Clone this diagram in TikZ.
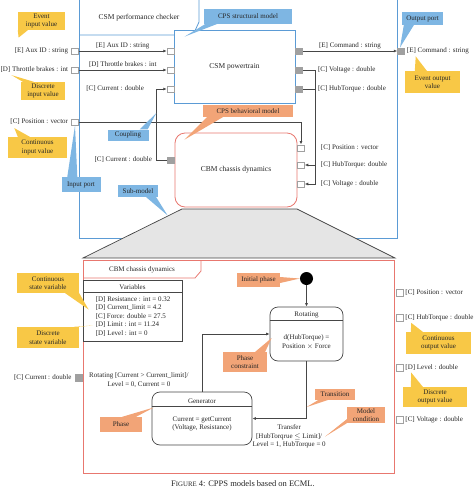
\documentclass[tikz,border=0pt]{standalone}
\usepackage{fontspec}
\setmainfont{Liberation Serif}
\usepackage{tikz}
\usetikzlibrary{arrows.meta,positioning,calc}
\usepackage{xcolor}
\definecolor{checkercolor}{RGB}{91,155,213}
\definecolor{chassiscolor}{RGB}{232,119,111}
\definecolor{bluenote}{RGB}{126,182,227}
\definecolor{yellownote}{RGB}{248,200,70}
\definecolor{orangenote}{RGB}{242,164,119}
\definecolor{portcolor}{RGB}{160,160,160}
\definecolor{wirecolor}{RGB}{70,70,70}

\begin{document}
\begin{tikzpicture}[x=1pt, y=-1pt,
    every node/.style={font=\fontsize{7}{8.5}\selectfont, text=black!85, inner sep=2pt},
    portbox/.style={rectangle, draw=portcolor, fill=white, line width=0.5pt,
        minimum width=7pt, minimum height=6.5pt, inner sep=0pt},
    outportbox/.style={portbox, fill=portcolor},
    wire/.style={draw=wirecolor, line width=0.7pt},
    arrow/.style={wire, -{Latex[length=3.5pt,width=3pt]}},
    note/.style={rectangle, align=center, inner sep=0pt},
    phasebox/.style={rectangle, draw=wirecolor, line width=0.7pt,
        rounded corners=8pt, fill=white, inner sep=0pt}
]
\useasboundingbox (0,0) rectangle (474,488);

% CSM performance checker frame
\draw[checkercolor, line width=0.8pt] (79,-5) rectangle (397,238);
\draw[checkercolor, line width=0.8pt] (79,35) -- (193,35) -- (199,22) -- (199,-5);
\node[font=\fontsize{7.5}{9}\selectfont] (checker) at (139,18) {CSM performance checker};

% Zoom onto the sub-model
\filldraw[fill=black!10, draw=wirecolor, line width=0.7pt]
    (182,209) -- (297,209) -- (395,258) -- (83,258) -- cycle;

% Structural and behavioral models
\node[draw=checkercolor, line width=0.8pt, fill=white, minimum width=121pt,
    minimum height=73pt, font=\fontsize{7.5}{9}\selectfont] (powertrain) at (234.5,66.5) {CSM powertrain};
\node[draw=chassiscolor, line width=0.8pt, fill=white, rounded corners=10pt,
    minimum width=122pt, minimum height=74pt, font=\fontsize{7.5}{9}\selectfont] (chassis) at (236,170) {CBM chassis dynamics};

% Ports of the checker
\node[portbox] (inAux) at (75,51) {};
\node[portbox] (inThr) at (75,70) {};
\node[portbox] (inPos) at (75,122) {};
\node[outportbox] (outCmd) at (401,51) {};
\node[left=1pt of inAux] (labAux) {[E] Aux ID : string};
\node[left=1pt of inThr] (labThr) {[D] Throttle brakes : int};
\node[left=1pt of inPos] (labPos) {[C] Position : vector};
\node[right=0pt of outCmd] (labCmd) {[E] Command : string};

% Ports of the powertrain
\node[portbox] (ptAux) at (170.5,51) {};
\node[portbox] (ptThr) at (170.5,70) {};
\node[portbox] (ptCur) at (170.5,89) {};
\node[outportbox] (ptCmd) at (299,51) {};
\node[outportbox] (ptVol) at (299,70) {};
\node[outportbox] (ptHub) at (299,89) {};

% Ports of the chassis
\node[outportbox] (chCur) at (171,160) {};
\node[portbox] (chPos) at (301,148) {};
\node[portbox] (chHub) at (301,165) {};
\node[portbox] (chVol) at (301,184) {};
\node[left=13pt of chCur] (labChCur) {[C] Current : double};
\node[right=14pt of chPos] (labChPos) {[C] Position : vector};
\node[right=14pt of chHub] (labChHub) {[C] HubTorque: double};
\node[right=14pt of chVol] (labChVol) {[C] Voltage : double};

% Couplings
\draw[arrow] (inAux) -- node[above] (wAux) {[E] Aux ID : string} (ptAux);
\draw[arrow] (inThr) -- node[above] (wThr) {[D] Throttle brakes : int} (ptThr);
\draw[arrow] (chCur.west) -- ++(-11,0) |- coordinate[pos=0.33] (cplTip)
    node[pos=0.5, left=10pt] (wCur) {[C] Current : double} (ptCur.west);
\draw[arrow] (ptCmd) -- node[above] (wCmd) {[E] Command : string} (outCmd);
\draw[arrow] (ptVol.east) -- ++(13,0) node[right] (wVol) {[C] Voltage : double} |- (chVol.east);
\draw[arrow] (ptHub.east) -- ++(13,0) node[right] (wHub) {[C] HubTorque : double} |- (chHub.east);
\draw[arrow] (inPos.east) -| (chPos.north);

% CBM chassis dynamics (expanded)
\node[draw=chassiscolor, line width=0.8pt, minimum width=311pt, minimum height=213pt,
    inner sep=0pt] (chassisx) at (238.5,366.5) {};
\draw[chassiscolor, line width=0.8pt] (83,278) -- (195,278) -- (201,271) -- (201,260);
\node (chassisxtitle) at (142,269.5) {CBM chassis dynamics};

% Variables
\node[draw=wirecolor, line width=0.8pt, minimum width=99pt, minimum height=61pt,
    inner sep=0pt] (vars) at (132.5,310.5) {};
\node (varstitle) at ($(vars.north)+(0,7.5)$) {Variables};
\draw[wirecolor, line width=0.7pt] ($(vars.north west)+(0,13)$) -- ($(vars.north east)+(0,13)$);
\node[anchor=north west, align=left, inner sep=0pt] (varlist) at ($(vars.north west)+(13,16.5)$)
    {[D] Resistance : int = 0.32\\ {}[D] Current\_limit = 4.2\\ {}[C] Force: double = 27.5\\
     {}[D] Limit : int = 11.24\\ {}[D] Level : int = 0};

% Phases
\node[circle, fill=black, minimum size=13pt, inner sep=0pt] (init) at (306.5,278.5) {};
\node[phasebox, minimum width=73pt, minimum height=54pt] (rot) at (306.5,334) {};
\node (rottitle) at ($(rot.north)+(0,8)$) {Rotating};
\draw[wirecolor, line width=0.7pt] ($(rot.north west)+(0,14)$) -- ($(rot.north east)+(0,14)$);
\node[align=center] (rotbody) at ($(rot.center)+(0,8)$) {d(HubTorque) =\\Position $\times$ Force};
\node[phasebox, minimum width=100pt, minimum height=53pt] (gen) at (202,418.5) {};
\node (gentitle) at ($(gen.north)+(0,9.5)$) {Generator};
\draw[wirecolor, line width=0.7pt] ($(gen.north west)+(0,15)$) -- ($(gen.north east)+(0,15)$);
\node[align=center] (genbody) at ($(gen.center)+(0,5.5)$) {Current = getCurrent\\(Voltage, Resistance)};

% Transitions
\draw[arrow] (init) -- (rot);
\draw[arrow] (gen.north) |- node[pos=0.1, left=11pt, align=center] (trRot)
    {Rotating [Current > Current\_limit]/\\Level = 0, Current = 0} (rot.west);
\draw[arrow] (rot.south) |- coordinate[pos=0.4] (trTip) node[pos=0.66, below=4pt, align=center] (trTransfer)
    {Transfer\\{}[HubTorqrue $\leq$ Limit]/\\Level = 1, HubTorque = 0} (gen.east);

% Ports of the expanded chassis
\node[outportbox] (bCur) at (78.5,377.5) {};
\node[portbox] (bPos) at (399.5,292.5) {};
\node[portbox] (bHub) at (399.5,317.5) {};
\node[portbox] (bLev) at (399.5,367.5) {};
\node[portbox] (bVol) at (399.5,419.5) {};
\node[left=1pt of bCur] (labBCur) {[C] Current : double};
\node[right=0pt of bPos] (labBPos) {[C] Position : vector};
\node[right=0pt of bHub] (labBHub) {[C] HubTorque : double};
\node[right=0pt of bLev] (labBLev) {[D] Level : double};
\node[right=0pt of bVol] (labBVol) {[C] Voltage : double};

% Blue notes
\node[note, fill=bluenote, minimum width=88pt, minimum height=15pt] (nStruct) at (248,16) {CPS structural model};
\fill[bluenote] ($(nStruct.south west)+(2,0)$) -- ($(powertrain.north west)+(11,7)$) -- ($(nStruct.south west)+(14,0)$) -- cycle;
\node[note, fill=bluenote, minimum width=41pt, minimum height=13pt] (nOut) at (422.5,18.5) {Output port};
\fill[bluenote] ($(nOut.south west)+(2,0)$) -- ($(outCmd.north)+(-1,0)$) -- ($(nOut.south west)+(12,0)$) -- cycle;
\node[note, fill=bluenote, minimum width=41pt, minimum height=11pt] (nCoupling) at (128,135) {Coupling};
\fill[bluenote] ($(nCoupling.north east)+(-9,0)$) -- (cplTip) -- ($(nCoupling.north east)+(-1,0)$) -- cycle;
\node[note, fill=bluenote, minimum width=39pt, minimum height=15pt] (nIn) at (81,184.5) {Input port};
\fill[bluenote] ($(nIn.north west)+(6,0)$) -- (inPos.south) -- ($(nIn.north west)+(16,0)$) -- cycle;
\node[note, fill=bluenote, minimum width=40pt, minimum height=12pt] (nSub) at (138,191) {Sub-model};
\fill[bluenote] ($(nSub.south east)+(-12,0)$) -- ($(chassis.south west)+(-7,8)$) -- ($(nSub.south east)+(-2,0)$) -- cycle;

% Yellow notes
\node[note, fill=yellownote, minimum width=47pt, minimum height=18pt] (nEvIn) at (41.5,21) {Event\\input value};
\fill[yellownote] ($(nEvIn.south west)+(0,0)$) -- ($(labAux.north west)+(6,-8)$) -- ($(nEvIn.south west)+(10,0)$) -- cycle;
\node[note, fill=yellownote, minimum width=44pt, minimum height=18pt] (nDsIn) at (43,91) {Discrete\\input value};
\fill[yellownote] ($(nDsIn.north west)+(2,0)$) -- ($(labThr.south west)+(13,0)$) -- ($(nDsIn.north west)+(13,0)$) -- cycle;
\node[note, fill=yellownote, minimum width=59pt, minimum height=21pt] (nCtIn) at (37.5,147.5) {Continuous\\input value};
\fill[yellownote] ($(nCtIn.north west)+(10,0)$) -- ($(labPos.south west)+(6,1)$) -- ($(nCtIn.north west)+(22,0)$) -- cycle;
\node[note, fill=yellownote, minimum width=55pt, minimum height=22pt] (nEvOut) at (432.5,82) {Event output\\value};
\fill[yellownote] ($(nEvOut.north west)+(10,0)$) -- ($(labCmd.south west)+(11,0)$) -- ($(nEvOut.north west)+(22,0)$) -- cycle;
\node[note, fill=yellownote, minimum width=62pt, minimum height=20pt] (nCtState) at (48,283) {Continuous\\state variable};
\fill[yellownote] ($(nCtState.south east)+(-14,0)$) -- ($(vars.west)+(6,-1)$) -- ($(nCtState.south east)+(0,0)$) -- cycle;
\node[note, fill=yellownote, minimum width=62pt, minimum height=21pt] (nDsState) at (48,337.5) {Discrete\\state variable};
\fill[yellownote] ($(nDsState.north east)+(-5,0)$) -- ($(vars.west)+(10,15)$) -- ($(nDsState.north east)+(0,0)$) -- cycle;
\node[note, fill=yellownote, minimum width=65pt, minimum height=22pt] (nCtOut) at (438.5,343) {Continuous\\output value};
\fill[yellownote] ($(nCtOut.north west)+(5,0)$) -- ($(labBHub.south west)+(8,0)$) -- ($(nCtOut.north west)+(17,0)$) -- cycle;
\node[note, fill=yellownote, minimum width=64pt, minimum height=20pt] (nDsOut) at (435,397) {Discrete\\output value};
\fill[yellownote] ($(nDsOut.north west)+(8,0)$) -- ($(labBLev.south west)+(8,0)$) -- ($(nDsOut.north west)+(20,0)$) -- cycle;

% Orange notes
\node[note, fill=orangenote, minimum width=90pt, minimum height=12pt] (nBehav) at (248,111) {CPS behavioral model};
\fill[orangenote] ($(nBehav.south west)+(4,0)$) -- ($(chassis.north west)+(10,7)$) -- ($(nBehav.south west)+(20,0)$) -- cycle;
\node[note, fill=orangenote, minimum width=43pt, minimum height=14pt] (nInit) at (258.5,280) {Initial phase};
\fill[orangenote] ($(nInit.east)+(0,-3)$) -- (init.west) -- ($(nInit.east)+(0,3)$) -- cycle;
\node[note, fill=orangenote, minimum width=44pt, minimum height=20pt] (nPhaseCon) at (245,362) {Phase\\constraint};
\fill[orangenote] ($(nPhaseCon.north east)+(-12,0)$) -- ($(rot.west)+(2,4)$) -- ($(nPhaseCon.north east)+(-2,0)$) -- cycle;
\node[note, fill=orangenote, minimum width=40pt, minimum height=11pt] (nTrans) at (335,394) {Transition};
\fill[orangenote] ($(nTrans.south west)+(4,0)$) -- (trTip) -- ($(nTrans.south west)+(14,0)$) -- cycle;
\node[note, fill=orangenote, minimum width=38pt, minimum height=16pt] (nCond) at (366,415) {Model\\condition};
\fill[orangenote] ($(nCond.south west)+(0,-4)$) -- ($(trTransfer.east)+(-3,0)$) -- ($(nCond.south west)+(0,0)$) -- cycle;
\node[note, fill=orangenote, minimum width=42pt, minimum height=15pt] (nPhase) at (121,424.5) {Phase};
\fill[orangenote] ($(nPhase.north east)+(-20,0)$) -- ($(gen.west)+(2,-11)$) -- ($(nPhase.north east)+(-6,0)$) -- cycle;

% Caption
\node[font=\fontsize{8.5}{10}\selectfont] (caption) at (243,484)
    {F{\fontsize{6.8}{10}\selectfont IGURE} 4: CPPS models based on ECML.};

\end{tikzpicture}
\end{document}
